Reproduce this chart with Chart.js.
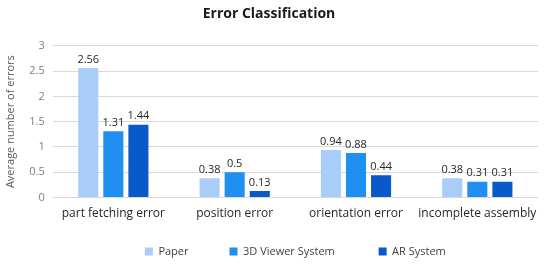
<!DOCTYPE html>
<html>
<head>
<meta charset="utf-8">
<script src="https://cdn.jsdelivr.net/npm/chart.js@4"></script>
<style>
  html, body { margin: 0; padding: 0; background: #fff; }
  #wrap { width: 550px; height: 264px; position: relative; }
</style>
</head>
<body>
<div id="wrap"><canvas id="chart"></canvas></div>
<script>
var categories = ['part fetching error', 'position error', 'orientation error', 'incomplete assembly'];
var seriesNames = ['Paper', '3D Viewer System', 'AR System'];
var paper = [2.56, 0.38, 0.94, 0.38];
var viewer3d = [1.31, 0.5, 0.88, 0.31];
var arSystem = [1.44, 0.13, 0.44, 0.31];
var yTicks = [0, 0.5, 1, 1.5, 2, 2.5, 3];

var colors = ['#a8cdf9', '#1f8ff1', '#0a59cb'];
var fontFamily = '"Open Sans", sans-serif';

// value labels above the bars
var valueLabels = {
    id: 'valueLabels',
    afterDatasetsDraw: function (chart) {
        var ctx = chart.ctx;
        ctx.save();
        ctx.font = '11px ' + fontFamily;
        ctx.fillStyle = '#262626';
        ctx.textAlign = 'center';
        ctx.textBaseline = 'bottom';
        chart.data.datasets.forEach(function (ds, i) {
            var meta = chart.getDatasetMeta(i);
            meta.data.forEach(function (bar, j) {
                ctx.fillText(String(ds.data[j]), bar.x, bar.y - 3);
            });
        });
        ctx.restore();
    }
};

var ctx = document.getElementById('chart').getContext('2d');
var chart = new Chart(ctx, {
    type: 'bar',
    data: {
        labels: categories,
        datasets: [
            { label: seriesNames[0], data: paper, backgroundColor: colors[0] },
            { label: seriesNames[1], data: viewer3d, backgroundColor: colors[1] },
            { label: seriesNames[2], data: arSystem, backgroundColor: colors[2] }
        ]
    },
    options: {
        responsive: true,
        maintainAspectRatio: false,
        animation: false,
        datasets: {
            bar: { categoryPercentage: 0.62, barPercentage: 0.8 }
        },
        layout: { padding: { left: 0, right: 12, top: 4, bottom: -3 } },
        plugins: {
            title: {
                display: true,
                text: 'Error Classification',
                color: '#1a1a1a',
                font: { family: fontFamily, size: 14, weight: 'bold' },
                padding: { top: 2, bottom: 23 }
            },
            legend: {
                position: 'bottom',
                fullSize: false,
                labels: {
                    boxWidth: 8,
                    boxHeight: 8,
                    padding: 19,
                    color: '#404040',
                    font: { family: fontFamily, size: 11 },
                    generateLabels: function (chart) {
                        var items = Chart.defaults.plugins.legend.labels.generateLabels(chart);
                        // widen the gaps between legend entries
                        var gaps = ['\u2003\u2003', '\u2003\u2003 '];
                        items.forEach(function (it, i) {
                            if (gaps[i]) it.text = it.text + gaps[i];
                        });
                        return items;
                    }
                }
            },
            tooltip: { enabled: false }
        },
        scales: {
            x: {
                grid: { display: false, drawTicks: false },
                border: { display: false },
                ticks: {
                    color: '#262626',
                    font: { family: fontFamily, size: 12 },
                    maxRotation: 0,
                    autoSkip: false,
                    padding: 9
                },
                afterFit: function (axis) {
                    axis.height = 29.5;
                }
            },
            y: {
                min: 0,
                max: 3,
                afterBuildTicks: function (axis) {
                    axis.ticks = yTicks.map(function (v) { return { value: v }; });
                },
                grid: { color: '#d9d9d9', drawTicks: false },
                border: { display: false },
                ticks: {
                    color: '#7f7f7f',
                    font: { family: fontFamily, size: 11 },
                    padding: 8,
                    callback: function (v) { return String(v); }
                },
                title: {
                    display: true,
                    text: 'Average number of errors',
                    color: '#595959',
                    font: { family: fontFamily, size: 11 },
                    padding: { top: 4, bottom: 4 }
                }
            }
        }
    },
    plugins: [valueLabels]
});
</script>
</body>
</html>
